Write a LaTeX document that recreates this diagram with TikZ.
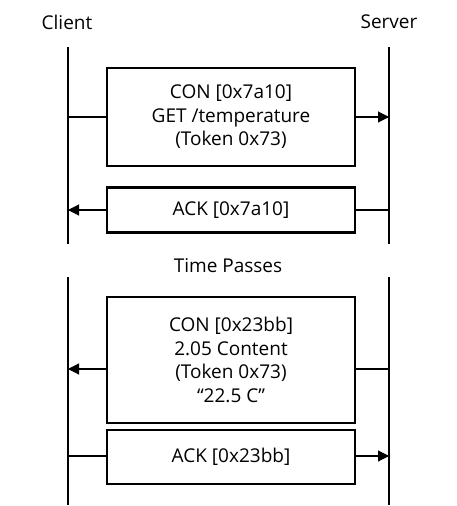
\documentclass[tikz,border=0pt]{standalone}
\usepackage{fontspec}
\setmainfont{Open Sans}
\usetikzlibrary{arrows.meta}
\begin{document}
\begin{tikzpicture}[x=1pt,y=-1pt,
  msg/.style={draw,line width=2.4pt,minimum width=248pt,align=center,inner sep=0pt,font=\fontsize{19}{23.5}\selectfont},
  life/.style={line width=1.1pt},
  conn/.style={line width=1.1pt},
  arr/.style={line width=1.1pt,-{Triangle[length=11pt,width=11pt]}},
  lbl/.style={font=\fontsize{19}{22}\selectfont}]
\useasboundingbox (0,0) rectangle (457,506);
\node[lbl] (client) at (67,22) {Client};
\node[lbl] (server) at (389,22) {Server};
\node[lbl] (time) at (228,266) {Time Passes};
% lifelines
\coordinate (ct1) at (68,47); \coordinate (cb1) at (68,244);
\coordinate (st1) at (389,47); \coordinate (sb1) at (389,244);
\coordinate (ct2) at (68,277); \coordinate (cb2) at (68,505);
\coordinate (st2) at (389,277); \coordinate (sb2) at (389,505);
\draw[life] (ct1) -- (cb1);
\draw[life] (st1) -- (sb1);
\draw[life] (ct2) -- (cb2);
\draw[life] (st2) -- (sb2);
% boxes
\node[msg,minimum height=98pt] (m1) at (231,117) {CON [0x7a10]\\GET /temperature\\(Token 0x73)};
\node[msg,minimum height=45pt] (m2) at (231,210) {ACK [0x7a10]};
\node[msg,minimum height=126pt] (m3) at (231,360) {CON [0x23bb]\\2.05 Content\\(Token 0x73)\\“22.5 C”};
\node[msg,minimum height=54pt] (m4) at (231,457) {ACK [0x23bb]};
% endpoints
\coordinate (c1) at (68,117); \coordinate (s1) at (389,117);
\coordinate (c2) at (68,210); \coordinate (s2) at (389,210);
\coordinate (c3) at (68,369); \coordinate (s3) at (389,369);
\coordinate (c4) at (68,456); \coordinate (s4) at (389,456);
\draw[conn] (c1) -- (m1.west |- c1);
\draw[arr] (m1.east |- s1) -- (s1);
\draw[conn] (s2) -- (m2.east |- s2);
\draw[arr] (m2.west |- c2) -- (c2);
\draw[conn] (s3) -- (m3.east |- s3);
\draw[arr] (m3.west |- c3) -- (c3);
\draw[conn] (c4) -- (m4.west |- c4);
\draw[arr] (m4.east |- s4) -- (s4);
\end{tikzpicture}
\end{document}
